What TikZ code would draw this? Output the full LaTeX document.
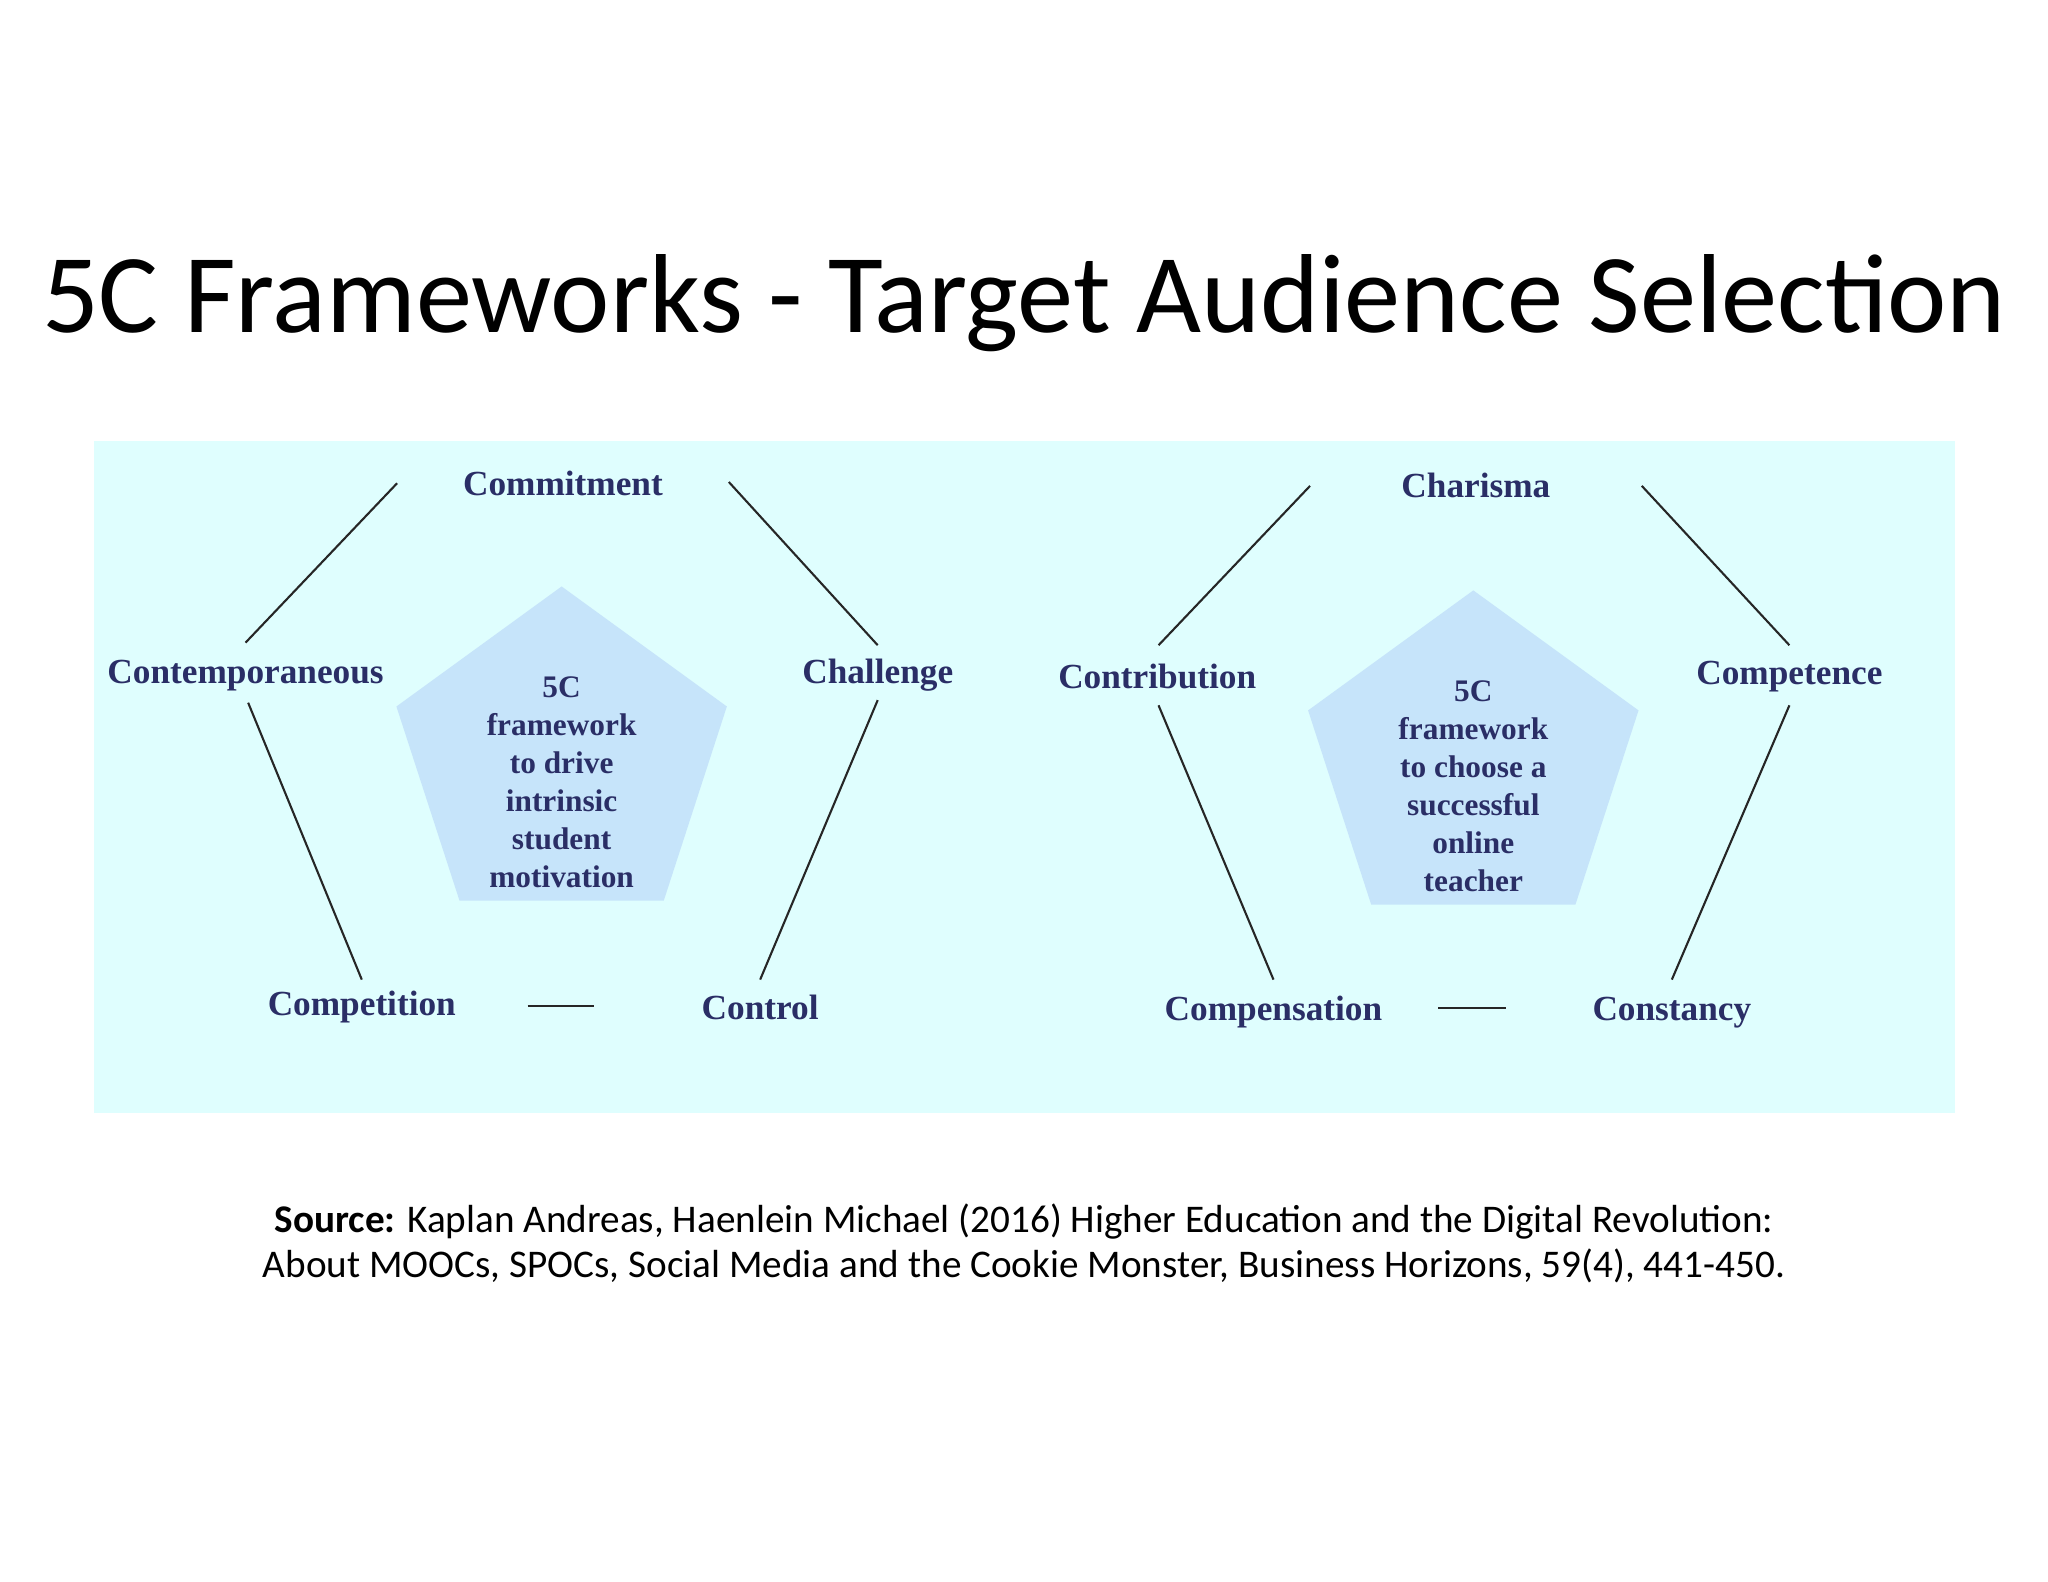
\documentclass[tikz,border=0pt]{standalone}
\usepackage{fontspec}
\setmainfont{Liberation Serif}
\newfontfamily\carlitofont{Carlito}
\usetikzlibrary{shapes.geometric}
\definecolor{panel}{HTML}{DFFEFE}
\definecolor{pent}{HTML}{C6E4FA}
\definecolor{navy}{HTML}{2A2E66}
\begin{document}
\begin{tikzpicture}[x=0.5pt,y=-0.5pt,
 lab/.style={font=\fontsize{13.5}{16}\selectfont\bfseries,text=navy,inner sep=1pt},
 pt/.style={font=\fontsize{12}{14.5}\selectfont\bfseries,text=navy,align=center},
 ln/.style={line width=0.8pt,draw=black!85},
 pg/.style={regular polygon,regular polygon sides=5,minimum size=133pt,fill=pent,draw=none,inner sep=0}]
\useasboundingbox (0,0) rectangle (1568,1211);
\fill[white] (0,0) rectangle (1568,1211);
\node[font=\carlitofont\fontsize{43}{50}\selectfont] (title) at (784,232) {5C Frameworks - Target Audience Selection};
\fill[panel] (72,338) rectangle (1497,852);
\node[pg] (p1) at (430,582) {};
\node[pg] (p2) at (1128,585) {};
\node[pt] (t1) at (430,599) {5C\\framework\\to drive\\intrinsic\\student\\motivation};
\node[pt] (t2) at (1128,602) {5C\\framework\\to choose a\\successful\\online\\teacher};
\node[lab] (a1) at (431,370) {Commitment};
\node[lab] (a2) at (188,517) {Contemporaneous};
\node[lab] (a3) at (672,517) {Challenge};
\node[lab] (a4) at (277,771) {Competition};
\node[lab] (a5) at (582,771) {Control};
\node[lab] (b1) at (1130,372) {Charisma};
\node[lab] (b2) at (886,518) {Contribution};
\node[lab] (b3) at (1370,518) {Competence};
\node[lab] (b4) at (975,775) {Compensation};
\node[lab] (b5) at (1280,775) {Constancy};
\coordinate (l1a) at (304,370); \coordinate (l1b) at (188,492);
\coordinate (l2a) at (558,369); \coordinate (l2b) at (672,494);
\coordinate (l3a) at (190,538); \coordinate (l3b) at (277,750);
\coordinate (l4a) at (672,536); \coordinate (l4b) at (582,750);
\coordinate (l5a) at (404,770); \coordinate (l5b) at (455,770);
\coordinate (r1a) at (1003,372); \coordinate (r1b) at (887,494);
\coordinate (r2a) at (1257,372); \coordinate (r2b) at (1370,494);
\coordinate (r3a) at (887,540); \coordinate (r3b) at (975,750);
\coordinate (r4a) at (1370,540); \coordinate (r4b) at (1280,750);
\coordinate (r5a) at (1101,772); \coordinate (r5b) at (1153,772);
\foreach \s in {l,r}{\foreach \i in {1,...,5}{\draw[ln] (\s\i a) -- (\s\i b);}}
\node[font=\carlitofont\fontsize{15}{17.5}\selectfont,align=center] (src) at (784,952)
 {\textbf{Source:} Kaplan Andreas, Haenlein Michael (2016) Higher Education and the Digital Revolution:\\About MOOCs, SPOCs, Social Media and the Cookie Monster, Business Horizons, 59(4), 441-450.};
\end{tikzpicture}
\end{document}
